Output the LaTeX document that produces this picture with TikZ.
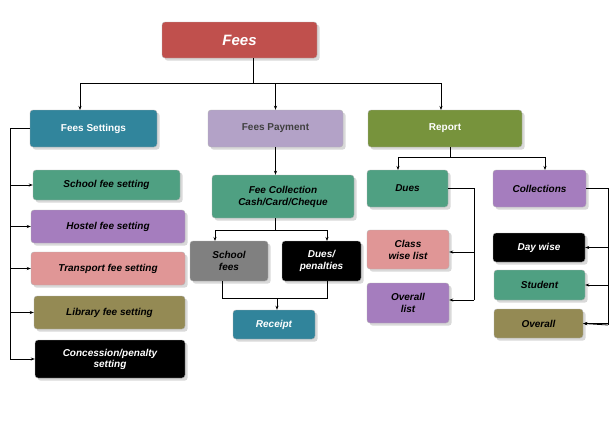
\documentclass[tikz,border=0pt]{standalone}
\usepackage{fontspec}
\setmainfont{Liberation Sans}
\usetikzlibrary{positioning,shadows,arrows.meta}
\definecolor{feered}{RGB}{192,80,77}
\definecolor{setblue}{RGB}{49,133,156}
\definecolor{paylav}{RGB}{179,162,199}
\definecolor{repgreen}{RGB}{119,147,60}
\definecolor{boxteal}{RGB}{79,160,130}
\definecolor{boxpurple}{RGB}{165,125,190}
\definecolor{boxpink}{RGB}{224,150,150}
\definecolor{boxolive}{RGB}{148,138,84}
\definecolor{boxgray}{RGB}{128,128,128}
\definecolor{rcptblue}{RGB}{49,132,155}

\begin{document}
\begin{tikzpicture}[x=1pt,y=-1pt,
			every node/.style={font=\bfseries\itshape\fontsize{10}{12}\selectfont,align=center},
			box/.style={draw=white!70!black,rounded corners=3pt,drop shadow={opacity=0.3},inner sep=2pt},
			conn/.style={-{Stealth[length=4pt]},thick},
			line/.style={thick}
			]
		\useasboundingbox (0,0) rectangle (614,424);
		% top level
		\node[box,fill=feered,text=white,minimum width=155,minimum height=36,font=\bfseries\itshape\fontsize{15}{18}\selectfont] (fees) at (239.5,40) {Fees};
		\node[box,fill=setblue,text=white,minimum width=127,minimum height=37,font=\bfseries\fontsize{10}{12}\selectfont] (set) at (93.5,128.5) {Fees Settings};
		\node[box,fill=paylav,text=black!75,minimum width=135,minimum height=37,font=\bfseries\fontsize{10}{12}\selectfont] (pay) at (275.5,128.5) {Fees Payment};
		\node[box,fill=repgreen,text=white,minimum width=154,minimum height=37,font=\bfseries\fontsize{10}{12}\selectfont] (rep) at (445,128.5) {Report};
		% settings
		\node[box,fill=boxteal,minimum width=147,minimum height=30] (s1) at (106.5,185) {School fee setting};
		\node[box,fill=boxpurple,minimum width=154,minimum height=33] (s2) at (108,226.5) {Hostel fee setting};
		\node[box,fill=boxpink,minimum width=154,minimum height=33] (s3) at (108,268.5) {Transport fee setting};
		\node[box,fill=boxolive,minimum width=151,minimum height=33] (s4) at (109.5,312.5) {Library fee setting};
		\node[box,fill=black,text=white,minimum width=150,minimum height=38,font=\bfseries\itshape\fontsize{10}{11}\selectfont] (s5) at (110,359) {Concession/penalty\\setting};
		% payment
		\node[box,fill=boxteal,minimum width=142,minimum height=43] (coll) at (283,196.5) {Fee Collection\\Cash/Card/Cheque};
		\node[box,fill=boxgray,minimum width=78,minimum height=40] (sfee) at (229,261) {School\\fees};
		\node[box,fill=black,text=white,minimum width=79,minimum height=40] (due) at (321.5,261) {Dues/\\penalties};
		\node[box,fill=rcptblue,text=white,minimum width=82,minimum height=29] (rcpt) at (274,324.5) {Receipt};
		% report
		\node[box,fill=boxteal,minimum width=81,minimum height=37] (dues) at (407.5,188.5) {Dues};
		\node[box,fill=boxpurple,minimum width=93,minimum height=37] (cols) at (539.5,188.5) {Collections};
		\node[box,fill=boxpink,minimum width=82,minimum height=39] (cwl) at (408,249.5) {Class\\wise list};
		\node[box,fill=boxpurple,minimum width=82,minimum height=40] (ovl) at (408,303) {Overall\\list};
		\node[box,fill=black,text=white,minimum width=92,minimum height=29] (day) at (539,247.5) {Day wise};
		\node[box,fill=boxteal,minimum width=91,minimum height=30] (stu) at (539.5,285) {Student};
		\node[box,fill=boxolive,minimum width=89,minimum height=29] (ovr) at (538.5,323.5) {Overall};
		% connectors
		\coordinate (top) at (253,83);
		\draw[line] (fees.south -| top) -- (top);
		\draw[conn] (top) -| (80,110);
		\draw[conn] (80,83) -| (pay.north);
		\draw[conn] (top) -| (441,110);
		\coordinate (sl) at (10,360);
		\draw[line] (set.west) -| (sl);
		\foreach \n in {s1,s2,s3,s4,s5}
			\draw[conn] (sl |- \n.west) -- (\n.west);
		\draw[conn] (pay.south) -- (pay.south |- coll.north);
		\coordinate (cf) at (275,230);
		\draw[line] (coll.south -| cf) -- (cf);
		\draw[conn] (cf) -| (215,241);
		\draw[conn] (cf) -| (327,241);
		\draw[line] (222,281) |- (277,298);
		\draw[line] (327,281) |- (277,298);
		\draw[conn] (277,298) -- (rcpt.north -| 277,0);
		\coordinate (rf) at (450,157);
		\draw[line] (rep.south -| rf) -- (rf);
		\draw[conn] (rf) -| (398,170);
		\draw[conn] (rf) -| (545,170);
		\draw[line] (dues.east) -| (474,300);
		\draw[conn] (474,252) -- (cwl.east |- 0,252);
		\draw[conn] (474,300) -- (ovl.east |- 0,300);
		\draw[line] (cols.east) -| (608,325);
		\foreach \n in {day,stu,ovr}
			\draw[conn] (608,0 |- \n.east) -- (\n.east);
		\draw[conn] (608,325) -- (ovr.east);
	\end{tikzpicture}
\end{document}
